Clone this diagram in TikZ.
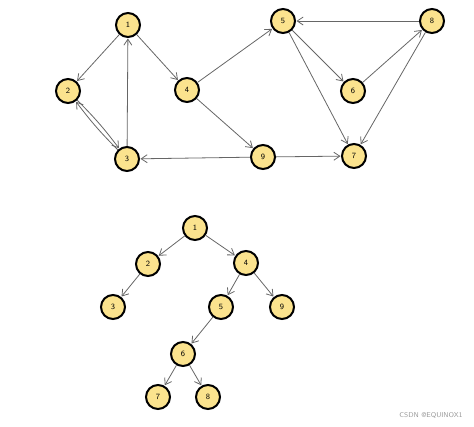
\documentclass[tikz,border=0pt]{standalone}
\usetikzlibrary{arrows.meta}
\begin{document}
\begin{tikzpicture}[x=1pt,y=-1pt,
  vert/.style={circle,draw=black,line width=2pt,fill=vfill,minimum size=24pt,inner sep=0pt,font=\sffamily\footnotesize},
  edge/.style={draw=black!60,line width=0.8pt,-{Straight Barb[length=6pt,width=8pt]},shorten >=0.5pt},
]
\definecolor{vfill}{HTML}{FBE38E}
\useasboundingbox (0,0) rectangle (474,426);
% top graph
\node[vert] (a1) at (128,25) {1};
\node[vert] (a2) at (68,91) {2};
\node[vert] (a3) at (127,159) {3};
\node[vert] (a4) at (187,90) {4};
\node[vert] (a5) at (283,21) {5};
\node[vert] (a8) at (432,21) {8};
\node[vert] (a6) at (353,91) {6};
\node[vert] (a9) at (263,157) {9};
\node[vert] (a7) at (354,156) {7};
\path[edge] (a1) -- (a2);
\path[edge] (a1) -- (a4);
\path[edge] (a3) -- (a1);
\path[edge] (a2) to[bend left=4] (a3);
\path[edge] (a3) to[bend left=4] (a2);
\path[edge] (a4) -- (a5);
\path[edge] (a4) -- (a9);
\path[edge] (a9) -- (a3);
\path[edge] (a9) -- (a7);
\path[edge] (a8) -- (a5);
\path[edge] (a5) -- (a6);
\path[edge] (a5) -- (a7);
\path[edge] (a6) -- (a8);
\path[edge] (a8) -- (a7);
% tree
\node[vert] (b1) at (195,228) {1};
\node[vert] (b2) at (148,264) {2};
\node[vert] (b3) at (113,307) {3};
\node[vert] (b4) at (246,263) {4};
\node[vert] (b5) at (221,307) {5};
\node[vert] (b9) at (282,307) {9};
\node[vert] (b6) at (183,354) {6};
\node[vert] (b7) at (158,397) {7};
\node[vert] (b8) at (208,397) {8};
\path[edge] (b1) -- (b2);
\path[edge] (b1) -- (b4);
\path[edge] (b2) -- (b3);
\path[edge] (b4) -- (b5);
\path[edge] (b4) -- (b9);
\path[edge] (b5) -- (b6);
\path[edge] (b6) -- (b7);
\path[edge] (b6) -- (b8);
\node[text=black!40,font=\sffamily\fontsize{7}{8}\selectfont] (wm) at (431,415) {CSDN @EQUINOX1};
\end{tikzpicture}
\end{document}
